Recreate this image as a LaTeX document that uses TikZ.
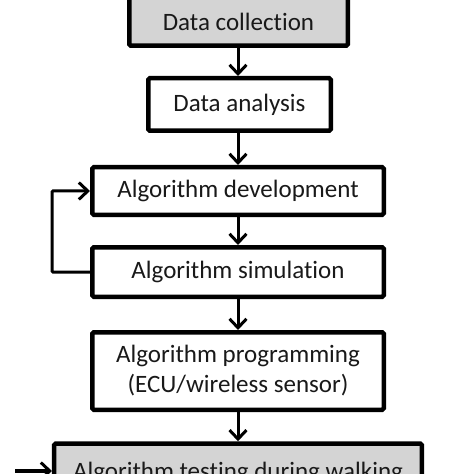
\documentclass[tikz,border=0pt]{standalone}
\usepackage{fontspec}
\setmainfont[Ligatures=NoCommon]{Carlito}
\usetikzlibrary{arrows.meta}
\definecolor{boxgray}{RGB}{212,212,212}
\definecolor{ink}{RGB}{25,25,25}
\begin{document}
\begin{tikzpicture}[x=1bp,y=-1bp,
  box/.style={draw=black, line width=4.5bp, rounded corners=1.5bp, fill=white,
    inner sep=0pt, align=center, text=ink,
    font=\fontsize{25bp}{30bp}\selectfont},
  graybox/.style={box, fill=boxgray},
  arr/.style={line width=3bp, -{Straight Barb[length=9bp,width=17bp,line width=3bp]}}]
\clip (0,0) rectangle (474,474);
\fill[white] (0,0) rectangle (474,474);
\coordinate (axis) at (238,0);
\node[graybox, minimum width=218.5bp, minimum height=48.5bp] (b1) at (238.5,21.5) {Data collection};
\node[box, minimum width=182.5bp, minimum height=52.5bp] (b2) at (239.5,104.5) {Data analysis};
\node[box, minimum width=291.5bp, minimum height=47.5bp] (b3) at (238,191) {Algorithm development};
\node[box, minimum width=291.5bp, minimum height=49.5bp] (b4) at (238,272) {Algorithm simulation};
\node[box, minimum width=291.5bp, minimum height=77.5bp] (b5) at (238,371) {Algorithm programming\\(ECU/wireless sensor)};
\node[graybox, minimum width=367.5bp, minimum height=58bp] (b6) at (238,472.5) {Algorithm testing during walking};
\draw[arr] (b1.south -| axis) -- (b2.north -| axis);
\draw[arr] (b2.south -| axis) -- (b3.north -| axis);
\draw[arr] (b3.south -| axis) -- (b4.north -| axis);
\draw[arr] (b4.south -| axis) -- (b5.north -| axis);
\draw[arr] (b5.south -| axis) -- (b6.north -| axis);
\coordinate (loop) at (52,0);
\draw[arr, rounded corners=1bp] (b4.west) -- (b4.west -| loop) |- (b3.west);
\coordinate (inleft) at (15,471);
\draw[arr, line width=3.5bp] (inleft) -- (inleft -| b6.west);
\end{tikzpicture}
\end{document}
